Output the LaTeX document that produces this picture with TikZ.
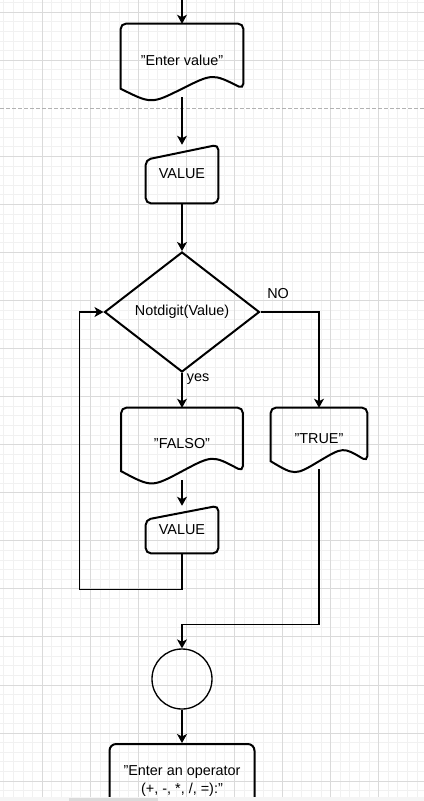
\documentclass[tikz,border=0pt]{standalone}
\usepackage{fontspec}
\setmainfont{Liberation Sans}
\usepackage{tikz}
\usetikzlibrary{arrows.meta,calc,shapes.geometric,positioning}
\definecolor{gridmajor}{HTML}{DADADA}
\definecolor{gridminor}{HTML}{F1F1F1}
\tikzset{
  txt/.style={font=\fontsize{10.8}{13.8}\selectfont},
  shapeline/.style={line width=1.5pt},
  docnode/.style={txt,inner sep=0pt},
  test/.style={txt,diamond,draw,shapeline,aspect=1.3,inner sep=0pt,minimum width=116.25pt,minimum height=90pt},
  joinpt/.style={circle,draw,line width=1pt,minimum size=45pt,inner sep=0pt},
  opbox/.style={txt,draw,shapeline,rounded corners=5pt,align=center,minimum width=108.75pt,minimum height=55.5pt,inner sep=0pt},
  flow/.style={line width=0.8pt,-{Stealth[length=6.75pt,width=7.5pt,inset=1.8pt]}},
  link/.style={line width=0.8pt},
  pagebreak/.style={gray!60,line width=0.75pt,dash pattern=on 3pt off 1.5pt}
}
% document outline round a node: name, wave depth (px)
\newcommand\docline[2]{%
  \draw[shapeline] ($(#1.south west)+(0,-#2/2)$) [rounded corners=3.75pt] -- (#1.north west) -- (#1.north east) -- ($(#1.south east)+(0,-#2/2)$) [sharp corners]
    .. controls ($(#1.south west)!0.75!(#1.south east)+(0,-1.4*#2)$) .. ($(#1.south)+(0,-#2/2)$)
    .. controls ($(#1.south west)!0.25!(#1.south east)+(0,0.4*#2)$) .. ($(#1.south west)+(0,-#2/2)$) -- cycle;}
% manual input outline round a node: name, slant (px)
\newcommand\manline[2]{%
  \draw[shapeline,rounded corners=3.75pt] (#1.south west) -- ($(#1.north west)+(0,#2)$) -- (#1.north east) -- (#1.south east) -- cycle;}

\begin{document}
\begin{tikzpicture}[x=0.75pt,y=-0.75pt]
\useasboundingbox (0,0) rectangle (424,801);
\clip (0,0) rectangle (424,801);
\fill[white] (0,0) rectangle (424,801);
\foreach \i in {0,...,44} \draw[gridminor,line width=0.75pt] ({3.9+9.61*\i},0) -- ++(0,801);
\foreach \i in {0,...,83} \draw[gridminor,line width=0.75pt] (0,{2.7+9.61*\i}) -- ++(424,0);
\foreach \i in {0,...,8} \draw[gridmajor,line width=0.75pt] ({42.3+48.05*\i},0) -- ++(0,801);
\foreach \i in {0,...,16} \draw[gridmajor,line width=0.75pt] (0,{12.3+48.05*\i}) -- ++(424,0);
\draw[white,line width=1pt] (0,108.5) -- (424,108.5);
\draw[pagebreak] (0,108.5) -- (424,108.5);

\coordinate (top) at (182,-2);
\node[docnode,minimum width=91.5pt,minimum height=54.75pt] (enter) at (182,60.5) {"Enter value"};
\node[docnode,minimum width=54pt,minimum height=43.5pt] (val1) at (182,174) {VALUE};
\node[test] (test) at (182,312) {Notdigit(Value)};
\node[docnode,minimum width=90.75pt,minimum height=54pt] (falso) at (182,444) {"FALSO"};
\node[docnode,minimum width=72pt,minimum height=45.75pt] (true) at (319,438.5) {"TRUE"};
\node[docnode,minimum width=54pt,minimum height=35.25pt] (val2) at (182,529.5) {VALUE};
\node[joinpt] (join) at (182,679) {};
\node[opbox] (oper) at (182,781) {"Enter an operator\\(+, -, *, /, =):"};

\docline{enter}{17}
\manline{val1}{15}
\docline{falso}{18}
\docline{true}{16}
\manline{val2}{14}

\draw[flow] (top) -- (enter.north);
\draw[flow] (enter.south) -- (val1.north);
\draw[flow] (val1.south) -- (test.north);
\draw[flow] (test.east) -| node[txt,pos=0.15,above=6pt] {NO} (true.north);
\draw[flow] (test.south) -- node[txt,pos=0.17,right] {yes} (falso.north);
\draw[flow] (falso.south) -- (val2.north);
\draw[flow] (val2.south) -- ++(0,36) -| ([xshift=-18pt]test.west) -- (test.west);
\draw[flow] (true.south) -- ++(0,155) -| (join.north);
\draw[flow] (join.south) -- (oper.north);

\fill[gray!8] (0,797) rectangle (424,801);
\fill[gray!28] (69,797.5) rectangle (158,801);
\end{tikzpicture}
\end{document}
